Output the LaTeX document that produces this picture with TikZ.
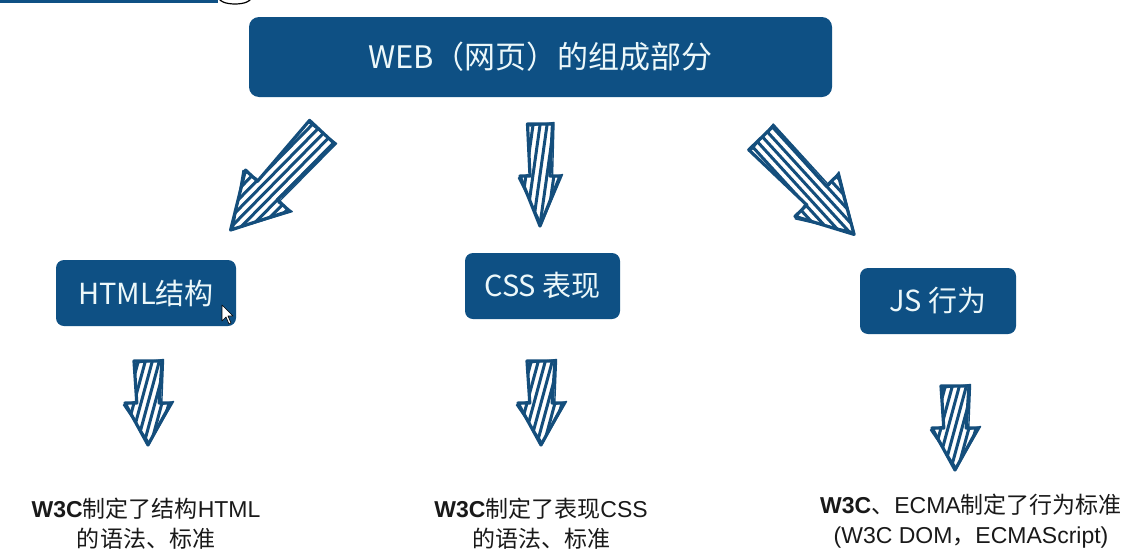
\documentclass[tikz,border=0pt]{standalone}
\usepackage{fontspec}
\setmainfont{Noto Sans CJK SC}
\newfontfamily\lib{Liberation Sans}
\definecolor{boxblue}{RGB}{14,80,132}
\definecolor{arrblue}{RGB}{20,78,124}
\definecolor{boxtext}{RGB}{236,248,250}
\tikzset{
  topbox/.style={fill=boxblue, rounded corners=10pt, minimum width=583pt, minimum height=80pt, inner sep=0pt, text=boxtext, font=\fontsize{31}{36}\selectfont},
  midbox/.style={fill=boxblue, rounded corners=8pt, minimum height=66pt, inner sep=0pt, text=boxtext, font=\fontsize{29}{34}\selectfont},
  note/.style={align=center, text=black!90, font=\fontsize{23}{30}\selectfont, inner sep=0pt},
  arrline/.style={draw=arrblue, line width=3.2pt, line join=round, line cap=round},
  arrthin/.style={draw=arrblue, line width=1.4pt, line join=round, line cap=round},
  stripe/.style={draw=arrblue, line width=3pt, line cap=round}
}
% tail, angle, length, shaft half-width, head half-width, head length, stripe skew
\newcommand{\sketcharrow}[7]{%
  \begin{scope}[shift={#1}, rotate=#2]
    \begin{scope}
      \clip (-#4,0) -- (#4,0) -- (0.8*#4,#3-#6) -- (#5,#3-#6) -- (0,#3) -- (-#5,#3-#6) -- (-0.8*#4,#3-#6) -- cycle;
      \foreach \k in {-7,...,7} {
        \draw[stripe] (\k*7+#7,-6) -- (\k*7-#7,#3+6);
      }
    \end{scope}
    \draw[arrline] (-#4,0) -- (#4,0) -- (0.8*#4,#3-#6) -- (#5,#3-#6) -- (0,#3) -- (-#5,#3-#6) -- (-0.8*#4,#3-#6) -- cycle;
    \draw[arrthin] (-#4+2,2) -- (#4+1.5,-1.5) -- (0.8*#4+2.5,#3-#6+1.5) -- (#5+2.5,#3-#6-1.5) -- (1.5,#3-2) -- (-#5-1.5,#3-#6+2) -- (-0.8*#4-2,#3-#6-1.5);
  \end{scope}}
\begin{document}
\begin{tikzpicture}[x=1pt, y=-1pt]
  \useasboundingbox[fill=white] (0,0) rectangle (1139,549);
  % cropped remnant at top-left
  \fill[boxblue] (0,0) rectangle (218,3);
  \draw[black, line width=1.2pt] (219,-2) arc[start angle=180, end angle=360, x radius=16pt, y radius=6pt];

  \node[topbox] (web) at (540.5,57) {WEB（网页）的组成部分};
  \node[midbox, minimum width=180pt] (html) at (146,293) {HTML结构};
  \node[midbox, minimum width=155pt] (css) at (542.5,286) {CSS 表现};
  \node[midbox, minimum width=156pt] (js) at (938,301) {JS 行为};

  % mouse cursor
  \draw[black, line width=0.6pt, fill=white, line join=round] (222,305) -- (222,321) -- (226,317) -- (229,324) -- (231,323) -- (228,316) -- (233,316) -- cycle;

  % arrows from top box
  \sketcharrow{(322,132)}{-43}{134}{17}{30}{54}{2}
  \sketcharrow{(540,124)}{0}{102}{12.5}{20}{50}{8}
  \sketcharrow{(761,138)}{44}{134}{17}{30}{54}{2}

  % arrows below boxes
  \sketcharrow{(148,361)}{0}{84}{14}{23}{42}{13}
  \sketcharrow{(541,361)}{0}{84}{14}{23}{42}{13}
  \sketcharrow{(955,386)}{0}{84}{14}{23}{42}{13}

  \node[note] (n1) at (146,524) {{\lib\bfseries W3C}制定了结构{\lib HTML}\\的语法、标准};
  \node[note] (n2) at (541,524) {{\lib\bfseries W3C}制定了表现{\lib CSS}\\的语法、标准};
  \node[note] (n3) at (971,521) {{\lib\bfseries W3C}、{\lib ECMA}制定了行为标准\\{\lib (W3C DOM}，{\lib ECMAScript)}};
\end{tikzpicture}
\end{document}
